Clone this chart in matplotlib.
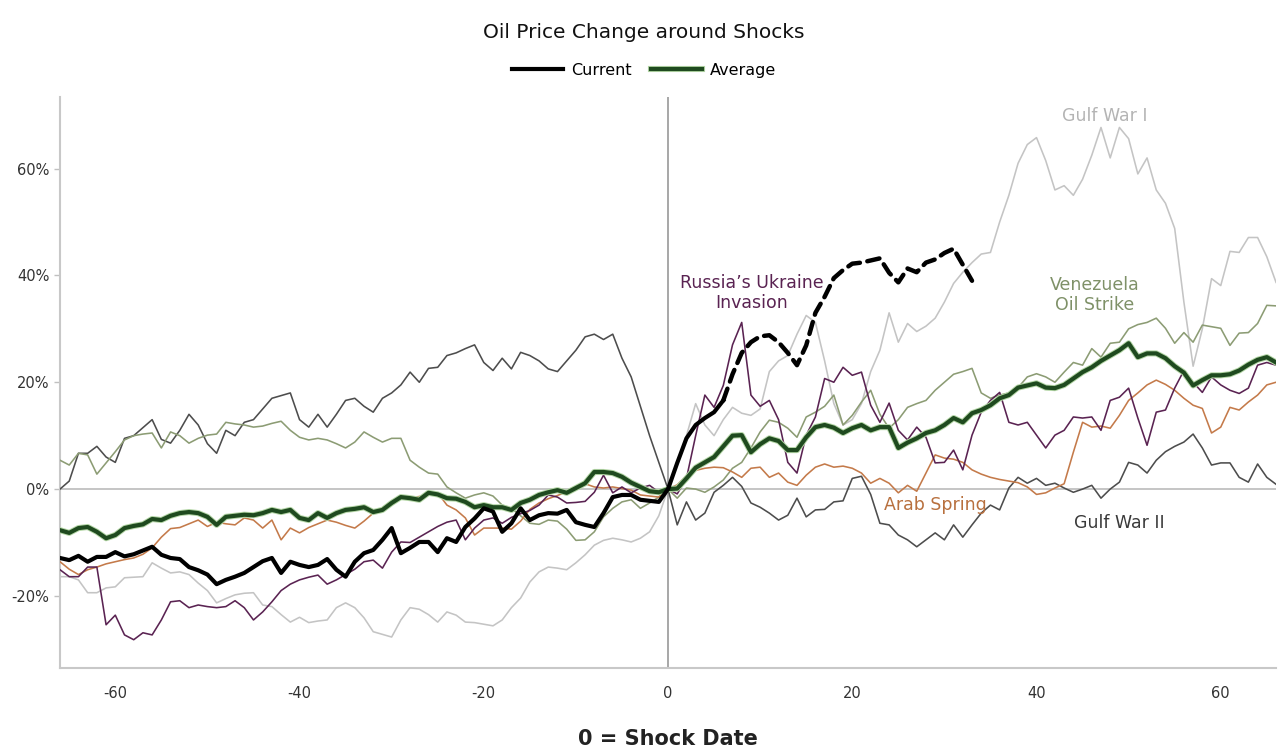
import numpy as np
import matplotlib
matplotlib.use("Agg")
import matplotlib.pyplot as plt
import matplotlib.patheffects as pe
from matplotlib.ticker import FuncFormatter

plt.rcParams['font.family'] = ['DejaVu Sans']
plt.rcParams['axes.unicode_minus'] = False

# trading days relative to the shock date, % change in oil price
days = np.arange(-66, 67)

gulf_war_1 = [
    -16.4, -16.4, -17, -19.4, -19.4, -18.5, -18.3, -16.6, -16.5, -16.4,
    -13.8, -14.8, -15.7, -15.5, -16, -17.6, -19, -21.3, -20.5, -19.8,
    -19.5, -19.4, -21.7, -22, -23.5, -24.9, -24, -25, -24.7, -24.5,
    -22.2, -21.3, -22.2, -24.1, -26.7, -27.2, -27.7, -24.5, -22.2, -22.5,
    -23.5, -24.9, -23, -23.6, -24.9, -25, -25.3, -25.6, -24.5, -22.2,
    -20.4, -17.4, -15.5, -14.6, -14.8, -15.1, -13.8, -12.3, -10.5, -9.6,
    -9.2, -9.5, -9.9, -9.2, -8, -5, 0, 5, 10, 16,
    12, 10, 13, 15.3, 14.2, 13.8, 15, 22, 24, 25,
    29, 32.5, 31.2, 24, 16, 12, 13, 16, 22, 26,
    33, 27.5, 31, 29.5, 30.5, 32, 35, 38.5, 40.6, 42.4,
    44, 44.3, 50, 55, 61, 64.5, 65.8, 61.5, 56, 56.8,
    55, 58, 62.5, 67.7, 62, 67.7, 65.6, 59, 62, 56,
    53.5, 48.8, 35, 23, 30, 39.4, 38.1, 44.5, 44.3, 47.1,
    47.1, 43.5, 38.7,
]

gulf_war_2 = [
    0, 1.5, 6.7, 6.7, 8, 6, 5, 9.5, 10, 11.5,
    13, 9.3, 8.6, 11, 14, 12, 8.5, 6.7, 11, 10,
    12.5, 13, 15, 17, 17.5, 18, 13, 11.6, 14, 11.6,
    14, 16.6, 17, 15.5, 14.4, 17, 18, 19.5, 21.9, 20,
    22.6, 22.8, 25, 25.5, 26.3, 27, 23.7, 22.2, 24.5, 22.5,
    25.6, 25, 24, 22.5, 22, 24, 26, 28.5, 29, 28,
    29, 24.5, 21, 15.5, 10, 5, 0, -6.7, -2.4, -5.8,
    -4.5, -0.6, 0.7, 2.2, 0.5, -2.6, -3.4, -4.5, -5.8, -4.9,
    -1.7, -5.2, -3.9, -3.8, -2.4, -2.2, 2, 2.4, -1, -6.4,
    -6.7, -8.6, -9.5, -10.8, -9.5, -8.2, -9.5, -6.7, -9, -6.7,
    -4.5, -3, -3.9, 0.2, 2.2, 1.1, 2, 0.7, 1.1, 0.2,
    -0.6, 0, 0.7, -1.7, 0, 1.3, 5, 4.5, 3, 5.4,
    7, 8, 8.8, 10.3, 7.7, 4.5, 4.9, 4.9, 2.2, 1.3,
    4.7, 2.2, 0.9,
]

venezuela = [
    5.4, 4.5, 6.7, 6.4, 2.8, 4.9, 7, 9.2, 10, 10.3,
    10.5, 7.7, 10.7, 10, 8.6, 9.5, 10.1, 10.3, 12.5, 12.2,
    12, 11.6, 11.8, 12.3, 12.7, 11, 9.7, 9.2, 9.5, 9.2,
    8.5, 7.7, 8.8, 10.7, 9.7, 8.8, 9.5, 9.5, 5.4, 4.1,
    3, 2.8, 0.4, -0.7, -1.7, -1.1, -0.7, -1.3, -3, -3.6,
    -5, -6.4, -6.6, -5.8, -6, -7.5, -9.6, -9.5, -8, -5.2,
    -3.6, -2.4, -2, -3.6, -2.6, -1.5, 0, -1.7, 0.2, 0,
    -0.6, 0.4, 1.7, 3.9, 5, 7.7, 10.7, 12.9, 12.5, 11.4,
    9.7, 13.5, 14.4, 15.5, 17.6, 12, 13.8, 16.3, 18.5, 14,
    11.4, 13, 15.3, 16, 16.6, 18.5, 20, 21.5, 22, 22.6,
    18, 17, 17.6, 18, 19, 21, 21.6, 21, 20, 21.9,
    23.7, 23.2, 26.3, 24.7, 27.3, 27.5, 30, 30.8, 31.2, 32,
    30.1, 27.3, 29.3, 27.5, 30.7, 30.4, 30.1, 26.9, 29.2, 29.3,
    31, 34.4, 34.3,
]

arab_spring = [
    -13.6, -15, -16, -15.1, -14.6, -14, -13.6, -13.2, -12.9, -12.2,
    -11, -9, -7.4, -7.2, -6.5, -5.8, -7, -6.2, -6.5, -6.7,
    -5.4, -5.8, -7.3, -5.8, -9.5, -7.3, -8.2, -7.2, -6.5, -5.8,
    -6.2, -6.8, -7.3, -6, -4.5, -3.5, -2.2, -1.5, -1.6, -1.4,
    -1, -0.7, -3, -3.9, -5.4, -8.6, -7.3, -7.3, -7.3, -7.5,
    -6, -3.8, -2.6, -1.8, -1.2, -0.5, 0.5, 1, 0.4, 0.2,
    0.4, 0.1, -0.2, -1.1, -1.3, -1.5, 0, 0.8, 2.5, 3.5,
    3.9, 4.1, 4, 3.2, 2.2, 3.9, 4.1, 2.2, 3, 1.3,
    0.7, 2.6, 4.1, 4.7, 4.1, 4.3, 3.9, 3, 1.1, 2,
    1.1, -0.7, 0.7, -0.4, 3, 6.4, 5.8, 5.6, 5, 3.6,
    2.8, 2.2, 1.8, 1.5, 1.2, 0.4, -1, -0.7, 0.2, 1,
    6.9, 12.5, 11.6, 11.8, 11.4, 13.8, 16.6, 18, 19.5, 20.4,
    19.6, 18.5, 17, 15.7, 15.1, 10.5, 11.6, 15.3, 14.8, 16.3,
    17.6, 19.5, 20,
]

russia_ukraine = [
    -15.1, -16.4, -16.4, -14.6, -14.6, -25.4, -23.6, -27.3, -28.2, -26.9,
    -27.3, -24.5, -21.1, -20.9, -22.2, -21.7, -22, -22.2, -22, -20.9,
    -22.2, -24.5, -23, -21.1, -19, -17.8, -17, -16.5, -16.1, -17.8,
    -17, -16, -15, -13.6, -13.3, -14.8, -11.8, -9.9, -10, -9,
    -8, -7, -6.2, -5.8, -9.5, -7.3, -5.8, -5.4, -6.4, -5.3,
    -4.6, -4, -3, -1.1, -1.5, -2.6, -2.5, -2.3, -0.6, 2.6,
    -0.7, 0.4, -0.7, 0.2, 0.7, -0.6, 0, -0.9, 2, 10,
    17.6, 15.3, 19.4, 27, 31.2, 17.6, 15.5, 16.6, 13, 5,
    3, 10.1, 13.5, 20.7, 20, 22.8, 21.3, 21.9, 15.7, 12.5,
    16.1, 11, 9.2, 11.6, 9.7, 4.9, 5, 7.3, 3.6, 10.1,
    14.4, 16.6, 18.1, 12.5, 12, 12.5, 10.1, 7.7, 10.1, 11,
    13.5, 13.3, 13.5, 11, 16.6, 17.2, 18.9, 13.3, 8.2, 14.4,
    14.8, 18.9, 22.2, 20, 18.1, 21, 19.5, 18.5, 17.9, 18.9,
    23.2, 23.7, 23.2,
]

average = [
    -7.7, -8.2, -7.3, -7.1, -8, -9.2, -8.6, -7.3, -6.9, -6.6,
    -5.6, -5.8, -5, -4.5, -4.3, -4.5, -5.2, -6.7, -5.2, -5,
    -4.8, -4.9, -4.5, -3.9, -4.3, -3.9, -5.4, -5.8, -4.5, -5.4,
    -4.5, -3.9, -3.7, -3.4, -4.3, -3.9, -2.6, -1.5, -1.7, -2,
    -0.7, -1, -1.7, -1.8, -2.4, -3.4, -3, -3.4, -3.4, -3.9,
    -2.6, -2, -1.1, -0.6, -0.2, -0.7, 0.2, 1.1, 3.2, 3.2,
    3, 2.3, 1.2, 0.4, -0.4, -0.6, 0, 0.1, 2, 4,
    5, 6, 8, 10, 10.1, 6.9, 8.4, 9.5, 9, 7.3,
    7.3, 9.7, 11.6, 12, 11.5, 10.5, 11.4, 12, 11, 11.6,
    11.6, 7.7, 8.7, 9.5, 10.5, 11, 12, 13.3, 12.5, 14.2,
    14.8, 15.7, 17, 17.6, 19, 19.4, 19.8, 19, 18.9, 19.5,
    20.7, 21.9, 22.8, 24, 25, 26, 27.3, 24.7, 25.4, 25.4,
    24.5, 23, 21.8, 19.4, 20.4, 21.3, 21.3, 21.5, 22.2, 23.3,
    24.2, 24.7, 23.7,
]

# current episode, known up to day 6, projected (dashed) to day 33
current = [
    -12.9, -13.3, -12.5, -13.6, -12.7, -12.7, -11.8, -12.6, -12.2, -11.5,
    -10.8, -12.3, -12.9, -13.1, -14.6, -15.2, -16, -17.8, -17, -16.4,
    -15.7, -14.6, -13.5, -12.9, -15.7, -13.6, -14.2, -14.6, -14.2, -13.1,
    -15.1, -16.4, -13.6, -12, -11.4, -9.5, -7.3, -12, -11, -9.9,
    -9.9, -11.8, -9.2, -9.9, -7.1, -5.5, -3.6, -4.2, -8, -6.4,
    -3.6, -5.8, -4.9, -4.5, -4.6, -3.9, -6.2, -6.7, -7.1, -4.5,
    -1.5, -1.1, -1.1, -2, -2.2, -2.4, 0, 4.9, 9.5, 12,
    13.3, 14.4, 16.6, 21.5, 25.5, 27.5, 28.6, 28.8, 27.5, 25.5,
    23.2, 26.9, 33, 36, 39.5, 41, 42.2, 42.4, 42.8, 43.2,
    40.5, 38.7, 41.3, 40.6, 42.4, 43, 44.2, 45, 42, 39,
]
current_known_until = 6

# colours
c_gw1 = '#c4c4c4'
c_gw2 = '#4d4d4d'
c_ven = '#8c9c74'
c_arab = '#c47a4a'
c_rus = '#5a2352'
c_avg = '#1f4a1f'
c_cur = '#000000'

fig = plt.figure(figsize=(12.88, 7.55), dpi=100)
ax = fig.add_axes([0.0466, 0.1152, 0.9441, 0.7563])

ax.axhline(0, color='#c0c0c0', lw=1.3, zorder=1)
ax.axvline(0, color='#a0a0a0', lw=1.3, zorder=1)

thin = 1.15
ax.plot(days, gulf_war_1, color=c_gw1, lw=thin, zorder=2)
ax.plot(days, gulf_war_2, color=c_gw2, lw=thin, zorder=3)
ax.plot(days, venezuela, color=c_ven, lw=thin, zorder=3)
ax.plot(days, arab_spring, color=c_arab, lw=thin, zorder=3)
ax.plot(days, russia_ukraine, color=c_rus, lw=thin, zorder=4)

ln_avg, = ax.plot(days, average, color=c_avg, lw=3.0, zorder=5,
                  solid_joinstyle='round',
                  path_effects=[pe.Stroke(linewidth=4.4, foreground='#b4d6a6'),
                                pe.Normal()])

cur_days = days[:len(current)]
known = cur_days <= current_known_until
ln_cur, = ax.plot(cur_days[known], np.array(current)[known], color=c_cur,
                  lw=3.0, zorder=6, solid_joinstyle='round')
proj = cur_days >= current_known_until
ax.plot(cur_days[proj], np.array(current)[proj], color=c_cur, lw=3.2,
        zorder=6, linestyle=(0, (2.8, 1.7)), dash_capstyle='round')

# series labels
ax.text(47.4, 69.8, 'Gulf War I', color='#b4b4b4', fontsize=12.5,
        ha='center', va='center')
ax.text(9.1, 36.7, "Russia\u2019s Ukraine\nInvasion", color=c_rus,
        fontsize=12.5, ha='center', va='center', linespacing=1.15)
ax.text(46.3, 36.4, 'Venezuela\nOil Strike', color='#7f9168',
        fontsize=12.5, ha='center', va='center', linespacing=1.15)
ax.text(29.0, -3.0, 'Arab Spring', color='#b8703e', fontsize=12.5,
        ha='center', va='center')
ax.text(49.0, -6.3, 'Gulf War II', color='#3a3a3a', fontsize=12.5,
        ha='center', va='center')

ax.set_xlim(-66, 66)
ax.set_ylim(-33.5, 73.4)
ax.set_xticks([-60, -40, -20, 0, 20, 40, 60])
ax.set_yticks([-20, 0, 20, 40, 60])
ax.yaxis.set_major_formatter(FuncFormatter(lambda v, p: f'{v:.0f}%'))

for side in ['top', 'right']:
    ax.spines[side].set_visible(False)
for side in ['left', 'bottom']:
    ax.spines[side].set_color('#c8c8c8')
    ax.spines[side].set_linewidth(1.5)
ax.tick_params(axis='both', colors='#c0c0c0', labelcolor='#333333',
               labelsize=10.5, length=4, width=1)
ax.tick_params(axis='x', length=0, pad=13)

ax.set_xlabel('0 = Shock Date', fontsize=15, fontweight='bold',
              color='#222222', labelpad=20)

fig.text(0.5, 0.957, 'Oil Price Change around Shocks', ha='center',
         va='center', fontsize=14.5, color='#111111')
fig.legend([ln_cur, ln_avg], ['Current', 'Average'], loc='center',
           bbox_to_anchor=(0.5, 0.907), ncol=2, frameon=False,
           fontsize=11.5, handlelength=3.2, columnspacing=1.2,
           handletextpad=0.5)

fig.savefig('out.png', dpi=100)
